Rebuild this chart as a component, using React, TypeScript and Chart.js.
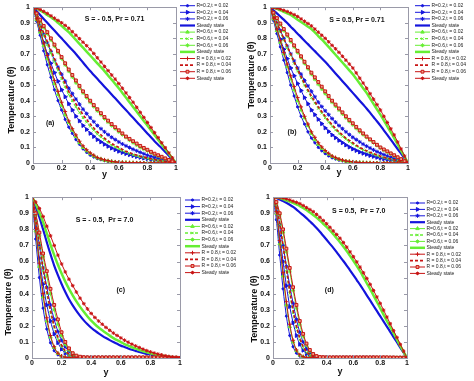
import React, { useEffect, useRef } from "react";
import { Chart, registerables } from "chart.js";
import { drawPoint } from "chart.js/helpers";

Chart.register(...registerables);

// ---------- grid & labels ----------
const X_GRID = [0, 0.025, 0.05, 0.075, 0.1, 0.125, 0.15, 0.175, 0.2, 0.225, 0.25, 0.275, 0.3, 0.325, 0.35, 0.375, 0.4, 0.425, 0.45, 0.475, 0.5, 0.525, 0.55, 0.575, 0.6, 0.625, 0.65, 0.675, 0.7, 0.725, 0.75, 0.775, 0.8, 0.825, 0.85, 0.875, 0.9, 0.925, 0.95, 0.975, 1];
const Y_TICKS = ["0", "0.1", "0.2", "0.3", "0.4", "0.5", "0.6", "0.7", "0.8", "0.9", "1"];
const X_TICKS = ["0", "0.2", "0.4", "0.6", "0.8", "1"];
const LEGEND_LABELS = [
  "R=0.2,t = 0.02", "R=0.2,t = 0.04", "R=0.2,t = 0.06", "Steady state",
  "R=0.6,t = 0.02", "R=0.6,t = 0.04", "R=0.6,t = 0.06", "Steady state",
  "R = 0.8,t = 0.02", "R = 0.8,t = 0.04", "R = 0.8,t = 0.06", "Steady state",
];

// ---------- panel (a): S = -0.5, Pr = 0.71 ----------
const A_R02_T02 = [1, .91, .82, .72, .63, .55, .47, .4, .34, .28, .23, .19, .15, .12, .09, .068, .05, .038, .028, .021, .015, .01, .007, .005, .003, .002, .001, 0, 0, 0, 0, 0, 0, 0, 0, 0, 0, 0, 0, 0, 0];
const A_R02_T04 = [1, .925, .85, .775, .7, .64, .58, .525, .47, .425, .38, .34, .3, .27, .24, .215, .19, .17, .15, .135, .12, .107, .095, .085, .075, .067, .06, .053, .047, .041, .036, .031, .027, .023, .019, .015, .012, .009, .006, .003, 0];
const A_R02_T06 = [1, .94, .88, .825, .77, .715, .66, .615, .57, .525, .48, .445, .41, .377, .345, .317, .29, .265, .24, .22, .2, .182, .165, .15, .135, .122, .11, .099, .088, .078, .068, .059, .05, .043, .036, .03, .024, .018, .012, .006, 0];
const A_R02_SS = [1, .975, .95, .925, .9, .875, .85, .825, .8, .775, .75, .725, .7, .672, .645, .617, .59, .565, .54, .515, .49, .465, .44, .415, .39, .365, .34, .315, .29, .265, .24, .215, .19, .165, .14, .117, .095, .071, .047, .023, 0];
const A_R06_T02 = [1, .92, .84, .755, .67, .59, .51, .44, .37, .31, .26, .21, .17, .13, .1, .078, .06, .045, .033, .025, .018, .013, .009, .006, .004, .003, .002, .001, .001, 0, 0, 0, 0, 0, 0, 0, 0, 0, 0, 0, 0];
const A_R06_T04 = [1, .94, .88, .82, .76, .705, .65, .595, .54, .49, .44, .4, .36, .325, .29, .262, .235, .21, .185, .167, .15, .132, .115, .102, .09, .08, .07, .061, .053, .046, .04, .035, .03, .025, .02, .016, .013, .009, .006, .003, 0];
const A_R06_T06 = [1, .955, .91, .87, .83, .79, .75, .71, .67, .63, .59, .552, .515, .482, .45, .42, .39, .362, .335, .31, .285, .262, .24, .22, .2, .182, .165, .147, .13, .115, .1, .089, .078, .066, .055, .045, .036, .027, .018, .009, 0];
const A_R06_SS = [1, .991, .98, .966, .95, .935, .92, .9, .88, .86, .84, .815, .79, .765, .74, .715, .69, .665, .64, .615, .59, .562, .535, .508, .48, .45, .42, .39, .36, .33, .3, .27, .24, .21, .18, .15, .12, .09, .06, .03, 0];
const A_R08_T02 = [1, .925, .85, .77, .69, .61, .53, .46, .39, .33, .27, .22, .18, .14, .11, .085, .065, .05, .035, .027, .02, .015, .01, .007, .005, .004, .003, .002, .002, .001, .001, 0, 0, 0, 0, 0, 0, 0, 0, 0, 0];
const A_R08_T04 = [1, .945, .89, .835, .78, .725, .67, .615, .56, .51, .46, .42, .38, .345, .31, .28, .25, .225, .2, .18, .16, .142, .125, .112, .1, .087, .075, .066, .058, .051, .044, .038, .032, .027, .022, .018, .014, .01, .007, .003, 0];
const A_R08_T06 = [1, .96, .92, .88, .84, .8, .76, .72, .68, .64, .6, .565, .53, .495, .46, .43, .4, .372, .345, .32, .295, .272, .25, .23, .21, .19, .17, .155, .14, .125, .11, .097, .085, .072, .06, .05, .04, .03, .02, .01, 0];
const A_R08_SS = [1, .994, .985, .973, .96, .945, .93, .915, .9, .883, .865, .843, .82, .798, .775, .753, .73, .703, .675, .648, .62, .593, .565, .538, .51, .48, .45, .42, .39, .358, .325, .293, .26, .228, .195, .163, .13, .098, .065, .033, 0];

// ---------- panel (b): S = 0.5, Pr = 0.71 ----------
const B_R02_T02 = [1, .915, .83, .745, .66, .58, .5, .43, .36, .3, .25, .2, .16, .13, .1, .078, .06, .045, .033, .025, .018, .013, .009, .006, .004, .003, .002, .001, .001, 0, 0, 0, 0, 0, 0, 0, 0, 0, 0, 0, 0];
const B_R02_T04 = [1, .93, .86, .795, .73, .67, .61, .56, .51, .465, .42, .38, .34, .31, .28, .252, .225, .202, .18, .162, .145, .13, .115, .102, .09, .08, .07, .062, .055, .048, .042, .036, .031, .026, .022, .018, .014, .01, .007, .003, 0];
const B_R02_T06 = [1, .95, .9, .85, .8, .75, .7, .655, .61, .57, .53, .495, .46, .425, .39, .362, .335, .31, .285, .262, .24, .22, .2, .182, .165, .15, .135, .121, .108, .096, .084, .073, .063, .054, .045, .037, .029, .021, .014, .007, 0];
const B_R02_SS = [1, .98, .96, .94, .92, .898, .875, .853, .83, .808, .785, .763, .74, .718, .695, .673, .65, .625, .6, .575, .55, .525, .5, .475, .45, .425, .4, .375, .35, .323, .295, .268, .24, .21, .18, .15, .12, .09, .06, .03, 0];
const B_R06_T02 = [1, .925, .85, .775, .7, .62, .54, .47, .4, .34, .29, .24, .19, .15, .12, .095, .075, .057, .042, .032, .023, .017, .012, .009, .006, .004, .003, .002, .001, .001, 0, 0, 0, 0, 0, 0, 0, 0, 0, 0, 0];
const B_R06_T04 = [1, .945, .89, .84, .79, .74, .69, .64, .59, .545, .5, .46, .42, .385, .35, .32, .29, .262, .235, .212, .19, .171, .153, .137, .122, .108, .095, .084, .074, .065, .056, .048, .041, .035, .029, .023, .018, .013, .009, .004, 0];
const B_R06_T06 = [1, .962, .925, .888, .85, .815, .78, .745, .71, .675, .64, .605, .57, .537, .505, .475, .445, .417, .39, .365, .34, .315, .29, .267, .245, .222, .2, .182, .165, .147, .13, .113, .097, .083, .07, .058, .046, .034, .023, .011, 0];
const B_R06_SS = [1, .996, .99, .98, .97, .96, .95, .935, .92, .905, .89, .875, .86, .838, .815, .793, .77, .745, .72, .695, .67, .645, .62, .595, .57, .54, .51, .48, .45, .415, .38, .345, .31, .273, .235, .198, .16, .12, .08, .04, 0];
const B_R08_T02 = [1, .93, .86, .785, .71, .635, .56, .49, .42, .36, .3, .25, .2, .165, .13, .103, .08, .062, .045, .035, .025, .019, .013, .01, .007, .005, .003, .002, .001, .001, 0, 0, 0, 0, 0, 0, 0, 0, 0, 0, 0];
const B_R08_T04 = [1, .95, .9, .85, .8, .75, .7, .65, .6, .555, .51, .47, .43, .395, .36, .33, .3, .272, .245, .222, .2, .18, .16, .145, .13, .115, .1, .089, .078, .069, .06, .052, .044, .037, .031, .025, .02, .015, .01, .005, 0];
const B_R08_T06 = [1, .965, .93, .895, .86, .825, .79, .755, .72, .685, .65, .615, .58, .55, .52, .49, .46, .43, .4, .375, .35, .325, .3, .277, .255, .232, .21, .19, .17, .152, .135, .117, .1, .087, .075, .062, .05, .037, .025, .012, 0];
const B_R08_SS = [1, .998, .994, .988, .98, .972, .962, .952, .94, .925, .91, .895, .88, .86, .84, .82, .8, .778, .755, .733, .71, .685, .66, .635, .61, .578, .545, .513, .48, .445, .41, .375, .34, .3, .26, .22, .18, .135, .09, .045, 0];

// ---------- panel (c): S = -0.5, Pr = 7.0 ----------
const C_R02_T02 = [1, .74, .5, .31, .18, .095, .045, .02, .008, .003, .001, 0, 0, 0, 0, 0, 0, 0, 0, 0, 0, 0, 0, 0, 0, 0, 0, 0, 0, 0, 0, 0, 0, 0, 0, 0, 0, 0, 0, 0, 0];
const C_R02_T04 = [1, .8, .62, .46, .33, .23, .15, .095, .055, .03, .016, .008, .004, .002, .001, .001, .001, .001, .001, .001, .001, .001, .001, 0, 0, 0, 0, 0, 0, 0, 0, 0, 0, 0, 0, 0, 0, 0, 0, 0, 0];
const C_R02_T06 = [1, .85, .7, .56, .44, .33, .24, .165, .11, .07, .04, .02, .01, .005, .003, .002, .002, .002, .002, .002, .002, .002, .002, .002, .002, .001, .001, .001, .001, .001, .001, .001, .001, .001, .001, .001, .001, 0, 0, 0, 0];
const C_R02_SS = [1, .94, .875, .8, .72, .645, .575, .515, .46, .41, .365, .327, .293, .262, .234, .21, .188, .17, .153, .138, .124, .111, .099, .088, .077, .068, .059, .051, .044, .037, .031, .026, .021, .017, .013, .01, .007, .005, .003, .001, 0];
const C_R06_T02 = [1, .79, .57, .38, .23, .13, .065, .028, .011, .004, .001, .001, .001, .001, .001, .001, .001, .001, .001, .001, .001, .001, .001, .001, .001, .001, .001, .001, .001, .001, .001, .001, .001, .001, .001, .001, .001, .001, .001, .001, 0];
const C_R06_T04 = [1, .85, .69, .54, .4, .28, .19, .12, .07, .04, .02, .01, .005, .002, .002, .002, .002, .002, .002, .002, .002, .002, .002, .002, .002, .002, .002, .002, .002, .002, .002, .002, .002, .001, .001, .001, .001, .001, .001, .001, 0];
const C_R06_T06 = [1, .89, .76, .63, .51, .4, .3, .21, .14, .085, .05, .025, .012, .006, .003, .002, .002, .002, .002, .002, .002, .002, .002, .002, .002, .002, .002, .002, .002, .002, .002, .002, .002, .002, .002, .001, .001, .001, .001, .001, 0];
const C_R06_SS = [1, .96, .905, .845, .775, .705, .64, .58, .525, .475, .43, .39, .352, .318, .287, .258, .232, .21, .19, .172, .155, .139, .124, .111, .099, .087, .077, .067, .058, .05, .042, .036, .03, .024, .019, .015, .011, .008, .005, .002, 0];
const C_R08_T02 = [1, .8, .59, .4, .25, .14, .07, .03, .012, .005, .002, .001, .001, .001, .001, .001, .001, .001, .001, .001, .001, .001, .001, .001, .001, .001, .001, .001, .001, .001, .001, .001, .001, .001, .001, .001, .001, .001, .001, .001, 0];
const C_R08_T04 = [1, .86, .71, .56, .42, .3, .2, .13, .08, .045, .025, .012, .006, .003, .003, .003, .003, .003, .003, .003, .003, .003, .003, .003, .003, .003, .003, .003, .003, .003, .003, .003, .003, .002, .002, .002, .002, .002, .001, .001, 0];
const C_R08_T06 = [1, .9, .78, .65, .54, .43, .33, .24, .16, .1, .06, .03, .015, .008, .005, .004, .004, .004, .004, .004, .004, .004, .004, .004, .004, .004, .004, .004, .004, .004, .004, .004, .004, .004, .004, .003, .003, .002, .002, .002, 0];
const C_R08_SS = [1, .97, .93, .88, .82, .76, .7, .64, .585, .535, .49, .45, .41, .372, .338, .305, .277, .252, .23, .21, .19, .172, .155, .14, .125, .111, .098, .086, .075, .065, .055, .046, .038, .031, .025, .019, .014, .01, .006, .003, 0];

// ---------- panel (d): S = 0.5, Pr = 7.0 ----------
const D_R02_T02 = [1, .86, .64, .43, .26, .14, .07, .03, .012, .004, .001, 0, 0, 0, 0, 0, 0, 0, 0, 0, 0, 0, 0, 0, 0, 0, 0, 0, 0, 0, 0, 0, 0, 0, 0, 0, 0, 0, 0, 0, 0];
const D_R02_T04 = [1, .91, .76, .6, .45, .32, .22, .14, .085, .048, .025, .012, .005, .002, .001, .001, .001, .001, .001, .001, .001, .001, .001, .001, .001, .001, .001, .001, .001, .001, .001, 0, 0, 0, 0, 0, 0, 0, 0, 0, 0];
const D_R02_T06 = [1, .94, .83, .7, .57, .45, .34, .24, .16, .1, .058, .031, .015, .007, .003, .002, .001, .001, .001, .001, .001, .001, .001, .001, .001, .001, .001, .001, .001, .001, .001, .001, .001, .001, .001, 0, 0, 0, 0, 0, 0];
const D_R02_SS = [1, .995, .985, .976, .965, .953, .94, .923, .905, .888, .87, .85, .83, .808, .785, .76, .735, .71, .685, .658, .63, .603, .575, .545, .515, .485, .455, .423, .39, .358, .325, .293, .26, .228, .195, .163, .13, .098, .065, .033, 0];
const D_R06_T02 = [1, .9, .71, .51, .33, .195, .1, .045, .018, .007, .002, .001, .001, .001, .001, .001, .001, .001, .001, .001, .001, .001, .001, .001, .001, .001, .001, .001, .001, .001, .001, .001, .001, .001, .001, .001, .001, .001, .001, .001, 0];
const D_R06_T04 = [1, .945, .83, .69, .54, .4, .28, .185, .115, .065, .035, .017, .008, .004, .002, .001, .001, .001, .001, .001, .001, .001, .001, .001, .001, .001, .001, .001, .001, .001, .001, .001, .001, .001, .001, .001, .001, .001, .001, .001, 0];
const D_R06_T06 = [1, .965, .89, .78, .66, .54, .42, .31, .21, .135, .08, .043, .021, .01, .005, .003, .002, .002, .002, .002, .002, .002, .002, .002, .002, .002, .002, .002, .002, .002, .002, .002, .002, .002, .002, .001, .001, .001, .001, .001, 0];
const D_R06_SS = [1, .998, .995, .988, .98, .973, .965, .955, .945, .933, .92, .905, .89, .873, .855, .835, .815, .793, .77, .745, .72, .693, .665, .635, .605, .573, .54, .503, .465, .428, .39, .35, .31, .27, .23, .193, .155, .115, .075, .038, 0];
const D_R08_T02 = [1, .91, .73, .53, .35, .21, .11, .05, .02, .008, .003, .001, .001, .001, .001, .001, .001, .001, .001, .001, .001, .001, .001, .001, .001, .001, .001, .001, .001, .001, .001, .001, .001, .001, .001, .001, .001, .001, .001, .001, 0];
const D_R08_T04 = [1, .95, .84, .7, .56, .42, .3, .2, .125, .072, .04, .02, .009, .004, .003, .002, .002, .002, .002, .002, .002, .002, .002, .002, .002, .002, .002, .002, .002, .002, .002, .002, .002, .002, .002, .002, .002, .001, .001, .001, 0];
const D_R08_T06 = [1, .97, .9, .8, .68, .56, .44, .33, .23, .15, .09, .05, .025, .012, .006, .005, .004, .004, .004, .004, .004, .004, .004, .004, .004, .004, .004, .004, .004, .004, .004, .004, .004, .004, .004, .003, .003, .002, .002, .002, 0];
const D_R08_SS = [1, .999, .998, .995, .99, .983, .975, .968, .96, .948, .935, .923, .91, .893, .875, .855, .835, .813, .79, .768, .745, .718, .69, .66, .63, .598, .565, .53, .495, .458, .42, .38, .34, .298, .255, .213, .17, .128, .085, .043, 0];

// ---------- styles ----------
const BLUE = "#1414dc";
const GREEN = "#66ee33";
const RED = "#c81414";

type SeriesStyle = {
  color: string; width: number; dash: number[]; point: any; radius: number; rot: number; fill?: string;
};
const STYLES: SeriesStyle[] = [
  { color: BLUE, width: 1, dash: [], point: "circle", radius: 1.1, rot: 0 },
  { color: BLUE, width: 1, dash: [], point: "triangle", radius: 2.2, rot: 90 },
  { color: BLUE, width: 1, dash: [], point: "star", radius: 2, rot: 0 },
  { color: BLUE, width: 2.2, dash: [], point: false, radius: 0, rot: 0 },
  { color: GREEN, width: 1, dash: [], point: "triangle", radius: 2, rot: 0 },
  { color: GREEN, width: 1.3, dash: [3, 2], point: "crossRot", radius: 1.8, rot: 0 },
  { color: GREEN, width: 1, dash: [], point: "star", radius: 2, rot: 0 },
  { color: GREEN, width: 2.5, dash: [], point: false, radius: 0, rot: 0 },
  { color: RED, width: 1, dash: [], point: "cross", radius: 2, rot: 0 },
  { color: RED, width: 1.6, dash: [3, 2], point: false, radius: 0, rot: 0 },
  { color: RED, width: 1, dash: [], point: "rect", radius: 2, rot: 0, fill: "#f0a488" },
  { color: RED, width: 1, dash: [], point: "star", radius: 1.8, rot: 0 },
];

const FONT = '"Liberation Sans", Arial, sans-serif';

type PanelCfg = {
  key: string; left: number; top: number; w: number; h: number;
  padTop: number; padRight: number; yW: number; xH: number;
  series: number[][];
  note: string; noteAt: [number, number]; tag: string; tagAt: [number, number];
  legendTop: number; legendGap: number; legendDx: number;
  yTitleX: number; yTitleY: number; xTitleY: number;
};

const PANELS: PanelCfg[] = [
  {
    key: "a", left: 0, top: 0, w: 237, h: 190, padTop: 2, padRight: 61, yW: 33, xH: 27,
    series: [A_R02_T02, A_R02_T04, A_R02_T06, A_R02_SS, A_R06_T02, A_R06_T04, A_R06_T06, A_R06_SS, A_R08_T02, A_R08_T04, A_R08_T06, A_R08_SS],
    note: "S = - 0.5, Pr = 0.71", noteAt: [0.57, 0.925], tag: "(a)", tagAt: [0.12, 0.255],
    legendTop: 5.7, legendGap: 6.6, legendDx: 4, yTitleX: 12, yTitleY: 100, xTitleY: 175,
  },
  {
    key: "b", left: 237, top: 0, w: 237, h: 190, padTop: 2, padRight: 66, yW: 33, xH: 27,
    series: [B_R02_T02, B_R02_T04, B_R02_T06, B_R02_SS, B_R06_T02, B_R06_T04, B_R06_T06, B_R06_SS, B_R08_T02, B_R08_T04, B_R08_T06, B_R08_SS],
    note: "S = 0.5, Pr = 0.71", noteAt: [0.63, 0.92], tag: "(b)", tagAt: [0.16, 0.2],
    legendTop: 5.7, legendGap: 6.6, legendDx: 7, yTitleX: 15, yTitleY: 75, xTitleY: 173,
  },
  {
    key: "c", left: 0, top: 190, w: 237, h: 191, padTop: 5, padRight: 57, yW: 32, xH: 23,
    series: [C_R02_T02, C_R02_T04, C_R02_T06, C_R02_SS, C_R06_T02, C_R06_T04, C_R06_T06, C_R06_SS, C_R08_T02, C_R08_T04, C_R08_T06, C_R08_SS],
    note: "S = - 0.5,  Pr = 7.0", noteAt: [0.49, 0.86], tag: "(c)", tagAt: [0.6, 0.42],
    legendTop: 10, legendGap: 6.6, legendDx: 5, yTitleX: 9, yTitleY: 112, xTitleY: 183,
  },
  {
    key: "d", left: 237, top: 190, w: 237, h: 191, padTop: 5, padRight: 67, yW: 36, xH: 23,
    series: [D_R02_T02, D_R02_T04, D_R02_T06, D_R02_SS, D_R06_T02, D_R06_T04, D_R06_T06, D_R06_SS, D_R08_T02, D_R08_T04, D_R08_T06, D_R08_SS],
    note: "S = 0.5,  Pr = 7.0", noteAt: [0.64, 0.915], tag: "(d)", tagAt: [0.42, 0.42],
    legendTop: 13, legendGap: 6.4, legendDx: 3, yTitleX: 18, yTitleY: 119, xTitleY: 182,
  },
];

function makeDecoPlugin(cfg: PanelCfg) {
  return {
    id: "deco" + cfg.key,
    afterDraw(chart: any) {
      const ctx = chart.ctx as CanvasRenderingContext2D;
      const { left, right, top, bottom } = chart.chartArea;
      const xs = chart.scales.x;
      const ys = chart.scales.y;
      ctx.save();
      ctx.strokeStyle = "#9a9aa8";
      ctx.lineWidth = 1;
      ctx.setLineDash([]);
      ctx.strokeRect(Math.round(left) + 0.5, Math.round(top) + 0.5, Math.round(right - left), Math.round(bottom - top));
      ctx.beginPath();
      for (let i = 0; i < Y_TICKS.length; i++) {
        const py = Math.round(ys.getPixelForValue(i / 10)) + 0.5;
        ctx.moveTo(left, py); ctx.lineTo(left + 3, py);
        ctx.moveTo(right, py); ctx.lineTo(right - 3, py);
      }
      for (let i = 0; i < X_TICKS.length; i++) {
        const px = Math.round(xs.getPixelForValue(i / 5)) + 0.5;
        ctx.moveTo(px, bottom); ctx.lineTo(px, bottom - 3);
        ctx.moveTo(px, top); ctx.lineTo(px, top + 3);
      }
      ctx.stroke();

      ctx.fillStyle = "#111";
      ctx.font = `bold 7px ${FONT}`;
      ctx.textAlign = "center";
      ctx.textBaseline = "middle";
      ctx.fillText(cfg.note, xs.getPixelForValue(cfg.noteAt[0]), ys.getPixelForValue(cfg.noteAt[1]));
      ctx.fillText(cfg.tag, xs.getPixelForValue(cfg.tagAt[0]), ys.getPixelForValue(cfg.tagAt[1]));

      ctx.font = `bold 9px ${FONT}`;
      ctx.fillText("y", (left + right) / 2, cfg.xTitleY);
      ctx.save();
      ctx.translate(cfg.yTitleX, cfg.yTitleY);
      ctx.rotate(-Math.PI / 2);
      ctx.fillText("Temperature (\u03b8)", 0, 0);
      ctx.restore();

      const x0 = right + cfg.legendDx;
      const lineLen = 15;
      chart.data.datasets.forEach((ds: any, i: number) => {
        const st = STYLES[i];
        const y = cfg.legendTop + i * cfg.legendGap;
        ctx.strokeStyle = st.color;
        ctx.lineWidth = st.width;
        ctx.setLineDash(st.dash);
        ctx.beginPath();
        ctx.moveTo(x0, y);
        ctx.lineTo(x0 + lineLen, y);
        ctx.stroke();
        ctx.setLineDash([]);
        if (st.point) {
          ctx.strokeStyle = st.color;
          ctx.fillStyle = st.fill || st.color;
          ctx.lineWidth = 1;
          drawPoint(ctx, { pointStyle: st.point, rotation: st.rot, radius: st.radius, borderWidth: 1 } as any, x0 + lineLen / 2, y);
        }
        ctx.fillStyle = "#222";
        ctx.font = `5px ${FONT}`;
        ctx.textAlign = "left";
        ctx.textBaseline = "middle";
        ctx.fillText(ds.label, x0 + lineLen + 1.5, y);
      });
      ctx.restore();
    },
  };
}

function Panel({ cfg }: { cfg: PanelCfg }) {
  const ref = useRef<HTMLCanvasElement | null>(null);
  useEffect(() => {
    const canvas = ref.current;
    if (!canvas) return;
    const datasets = cfg.series.map((ys, i) => {
      const st = STYLES[i];
      return {
        label: LEGEND_LABELS[i],
        data: ys.map((y, j) => ({ x: X_GRID[j], y })),
        borderColor: st.color,
        backgroundColor: st.fill || st.color,
        borderWidth: st.width,
        borderDash: st.dash,
        pointStyle: st.point,
        pointRadius: st.radius,
        pointRotation: st.rot,
        pointBorderWidth: 1,
        pointBorderColor: st.color,
        pointBackgroundColor: st.fill || st.color,
        cubicInterpolationMode: "monotone" as const,
        order: 20 - i,
      };
    });
    const chart = new Chart(canvas, {
      type: "line",
      data: { datasets },
      options: {
        animation: false,
        responsive: false,
        devicePixelRatio: 1,
        events: [],
        layout: { padding: { left: 0, top: cfg.padTop, right: cfg.padRight, bottom: 0 } },
        plugins: { legend: { display: false }, tooltip: { enabled: false } },
        scales: {
          x: {
            type: "linear",
            min: 0,
            max: 1,
            afterFit: (s: any) => { s.height = cfg.xH; },
            grid: { display: false, drawTicks: false },
            border: { display: false },
            ticks: {
              stepSize: 0.2,
              padding: 1,
              color: "#111",
              font: { family: FONT, size: 7, weight: "bold" },
              maxRotation: 0,
              callback: (v: any) => X_TICKS[Math.round(Number(v) * 5)],
            },
          },
          y: {
            type: "linear",
            min: 0,
            max: 1,
            afterFit: (s: any) => { s.width = cfg.yW; },
            grid: { display: false, drawTicks: false },
            border: { display: false },
            ticks: {
              stepSize: 0.1,
              padding: 3,
              color: "#111",
              font: { family: FONT, size: 7, weight: "bold" },
              callback: (v: any) => Y_TICKS[Math.round(Number(v) * 10)],
            },
          },
        },
      } as any,
      plugins: [makeDecoPlugin(cfg)],
    });
    return () => chart.destroy();
  }, [cfg]);
  return (
    <canvas
      ref={ref}
      width={cfg.w}
      height={cfg.h}
      style={{ position: "absolute", left: cfg.left, top: cfg.top, width: cfg.w, height: cfg.h }}
    />
  );
}

export default function App() {
  return (
    <div style={{ position: "absolute", left: 0, top: 0, width: 474, height: 381, background: "#fff", overflow: "hidden" }}>
      {PANELS.map((p) => (
        <Panel key={p.key} cfg={p} />
      ))}
    </div>
  );
}
